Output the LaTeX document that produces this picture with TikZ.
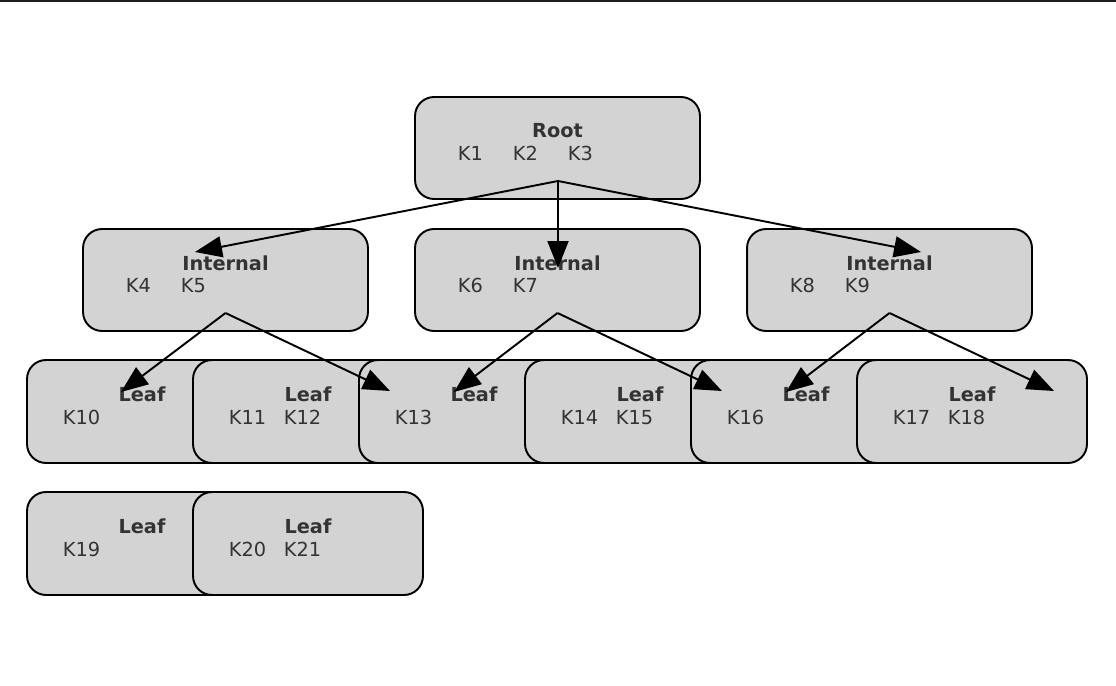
\documentclass[tikz,border=0pt]{standalone}
\usepackage{fontspec}
\setmainfont{DejaVu Sans}
\usepackage{xcolor}
\usepackage{tikz}
\usetikzlibrary{arrows.meta,calc}
\definecolor{boxgray}{HTML}{D3D3D3}
\definecolor{txtgray}{HTML}{333333}
\newcommand{\fs}{\fontsize{11}{13}\selectfont}
\newcommand{\kk}[1]{\makebox[1.1cm][l]{#1}}
\tikzstyle{treebox}=[draw=black,fill=boxgray,line width=1.1pt,rounded corners=0.38cm,minimum width=5.7cm,minimum height=2.04cm]
\tikzstyle{leafbox}=[treebox,minimum width=4.6cm,minimum height=2.06cm]
\tikzstyle{title}=[text=txtgray,font=\fs\bfseries,inner sep=0pt]
\tikzstyle{keys}=[text=txtgray,font=\fs,inner sep=0pt,anchor=west]
\tikzstyle{edge}=[line width=1.1pt,-{Triangle[length=0.54cm,width=0.42cm]}]

\begin{document}
\begin{tikzpicture}[x=0.02cm,y=-0.02cm]
        \useasboundingbox (0,0) rectangle (1116,686);
        \fill [black!88] (0,0) rectangle (1116,2);
        % root and internal nodes
        \node at (557.5,148) [treebox] (root) {};
        \node at ($(root)+(0,-17)$) [title] (rootT) {Root};
        \node at ($(root)+(-100,5.5)$) [keys] (rootK) {\kk{K1}\kk{K2}K3};
        \node at (225.5,280) [treebox] (int1) {};
        \node at ($(int1)+(0,-17)$) [title] (int1T) {Internal};
        \node at ($(int1)+(-100,5.5)$) [keys] (int1K) {\kk{K4}K5};
        \node at (557.5,280) [treebox] (int2) {};
        \node at ($(int2)+(0,-17)$) [title] (int2T) {Internal};
        \node at ($(int2)+(-100,5.5)$) [keys] (int2K) {\kk{K6}K7};
        \node at (889.5,280) [treebox] (int3) {};
        \node at ($(int3)+(0,-17)$) [title] (int3T) {Internal};
        \node at ($(int3)+(-100,5.5)$) [keys] (int3K) {\kk{K8}K9};
        % leaves
        \node at (142,411.5) [leafbox] (leaf1) {};
        \node at ($(leaf1)+(0,-17.5)$) [title] (leaf1T) {Leaf};
        \node at ($(leaf1)+(-79.5,6)$) [keys] (leaf1K) {K10};
        \node at (308,411.5) [leafbox] (leaf2) {};
        \node at ($(leaf2)+(0,-17.5)$) [title] (leaf2T) {Leaf};
        \node at ($(leaf2)+(-79.5,6)$) [keys] (leaf2K) {\kk{K11}K12};
        \node at (474,411.5) [leafbox] (leaf3) {};
        \node at ($(leaf3)+(0,-17.5)$) [title] (leaf3T) {Leaf};
        \node at ($(leaf3)+(-79.5,6)$) [keys] (leaf3K) {K13};
        \node at (640,411.5) [leafbox] (leaf4) {};
        \node at ($(leaf4)+(0,-17.5)$) [title] (leaf4T) {Leaf};
        \node at ($(leaf4)+(-79.5,6)$) [keys] (leaf4K) {\kk{K14}K15};
        \node at (806,411.5) [leafbox] (leaf5) {};
        \node at ($(leaf5)+(0,-17.5)$) [title] (leaf5T) {Leaf};
        \node at ($(leaf5)+(-79.5,6)$) [keys] (leaf5K) {K16};
        \node at (972,411.5) [leafbox] (leaf6) {};
        \node at ($(leaf6)+(0,-17.5)$) [title] (leaf6T) {Leaf};
        \node at ($(leaf6)+(-79.5,6)$) [keys] (leaf6K) {\kk{K17}K18};
        \node at (142,543.5) [leafbox] (leaf7) {};
        \node at ($(leaf7)+(0,-17.5)$) [title] (leaf7T) {Leaf};
        \node at ($(leaf7)+(-79.5,6)$) [keys] (leaf7K) {K19};
        \node at (308,543.5) [leafbox] (leaf8) {};
        \node at ($(leaf8)+(0,-17.5)$) [title] (leaf8T) {Leaf};
        \node at ($(leaf8)+(-79.5,6)$) [keys] (leaf8K) {\kk{K20}K21};
        % arrows
        \draw [edge] ($(root)+(0.5,33)$) to ($(int1)+(-30.5,-28)$);
        \draw [edge] ($(root)+(0.5,33)$) to ($(int2)+(0.5,-12)$);
        \draw [edge] ($(root)+(0.5,33)$) to ($(int3)+(31.5,-28)$);
        \draw [edge] ($(int1)+(0,33)$) to ($(leaf1)+(-21,-19.5)$);
        \draw [edge] ($(int1)+(0,33)$) to ($(leaf2)+(82,-20.5)$);
        \draw [edge] ($(int2)+(0,33)$) to ($(leaf3)+(-20,-19.5)$);
        \draw [edge] ($(int2)+(0,33)$) to ($(leaf4)+(82,-20.5)$);
        \draw [edge] ($(int3)+(0,33)$) to ($(leaf5)+(-20,-19.5)$);
        \draw [edge] ($(int3)+(0,33)$) to ($(leaf6)+(82,-20.5)$);
      \end{tikzpicture}
\end{document}
